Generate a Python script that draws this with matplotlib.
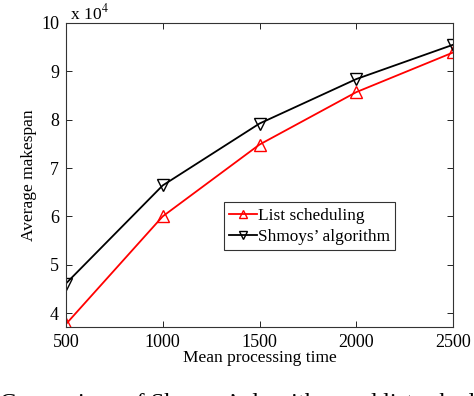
import matplotlib
matplotlib.use("Agg")
import matplotlib.pyplot as plt
from matplotlib.ticker import FuncFormatter

plt.rcParams['font.family'] = ['Liberation Serif', 'DejaVu Serif']
plt.rcParams['mathtext.fontset'] = 'stix'

mean_time = [500, 1000, 1500, 2000, 2500]
list_sched = [37700, 60000, 74850, 85700, 93900]
shmoys = [46100, 66400, 79200, 88400, 95500]

fig = plt.figure(figsize=(4.74, 3.96), dpi=100)
ax = fig.add_axes([0.139, 0.174, 0.817, 0.768])

ax.plot(mean_time, list_sched, color='red', marker='^', markersize=8,
        markerfacecolor='none', markeredgecolor='red', lw=1.3, label='List scheduling')
ax.plot(mean_time, shmoys, color='black', marker='v', markersize=8,
        markerfacecolor='none', markeredgecolor='black', lw=1.3, label="Shmoys\u2019 algorithm")

ax.set_xlim(500, 2500)
ax.set_ylim(37100, 100000)
ax.set_xticks([500, 1000, 1500, 2000, 2500])
ax.set_yticks([40000, 50000, 60000, 70000, 80000, 90000, 100000])
ax.yaxis.set_major_formatter(FuncFormatter(lambda v, p: f"{v/1e4:g}"))
ax.tick_params(direction='in', top=True, right=True, labelsize=13, length=4, width=0.6, pad=5)
for s in ax.spines.values():
    s.set_linewidth(0.8)
    s.set_color('#333333')

ax.set_xlabel('Mean processing time', fontsize=12.5, labelpad=-1)
ax.set_ylabel('Average makespan', fontsize=12.5, labelpad=3)
ax.text(0.0, 1.0, r' x 10$^4$', transform=ax.transAxes, fontsize=12.5, ha='left', va='bottom')

leg = ax.legend(loc='upper left', bbox_to_anchor=(0.408, 0.41), fontsize=12.4,
                frameon=True, fancybox=False, edgecolor='black', borderpad=0.3,
                handlelength=1.6, handletextpad=0.1, labelspacing=0.3, borderaxespad=0,
                markerscale=0.7)
leg.get_frame().set_linewidth(0.8)

fig.text(0.0, -0.045, "Comparison of Shmoys\u2019 algorithm and list scheduling",
         fontsize=17.5, ha='left', va='bottom')

fig.savefig('out.png', dpi=100)
